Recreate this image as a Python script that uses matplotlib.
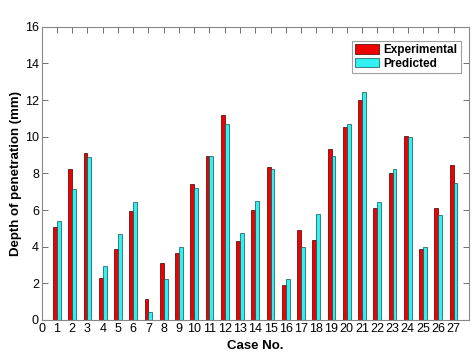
import matplotlib
matplotlib.use('Agg')
import matplotlib.pyplot as plt
from matplotlib import font_manager
import numpy as np

# case data
cases = np.arange(1, 28)
experimental = [5.09, 8.24, 9.13, 2.29, 3.85, 5.96, 1.13, 3.11, 3.65, 7.42,
                8.93, 11.20, 4.31, 5.98, 8.36, 1.89, 4.93, 4.35, 9.35, 10.51,
                11.98, 6.09, 8.00, 10.02, 3.85, 6.11, 8.45]
predicted = [5.38, 7.15, 8.91, 2.93, 4.67, 6.44, 0.45, 2.22, 3.96, 7.18,
             8.93, 10.69, 4.73, 6.47, 8.22, 2.25, 4.00, 5.76, 8.93, 10.67,
             12.45, 6.45, 8.22, 9.98, 3.98, 5.75, 7.49]
x_ticks = np.arange(0, 28)
y_ticks = np.arange(0, 17, 2)

# narrow font if we have it, the original looks squeezed sideways
names = set(f.name for f in font_manager.fontManager.ttflist)
if 'Liberation Sans Narrow' in names:
    fam = ['Liberation Sans Narrow', 'DejaVu Sans']
else:
    fam = ['Liberation Sans', 'DejaVu Sans']
plt.rcParams['font.family'] = fam

fig = plt.figure(figsize=(4.74, 3.55), dpi=100)
ax = fig.add_axes([0.088, 0.0986, 0.901, 0.826])

w = 0.26
ax.bar(cases - w / 2, experimental, width=w, color='#f00000',
       edgecolor='#400000', linewidth=0.5, label='Experimental', zorder=2)
ax.bar(cases + w / 2, predicted, width=w, color='#30f0f0',
       edgecolor='#105050', linewidth=0.5, label='Predicted', zorder=2)

ax.set_xlim(0, 28)
ax.set_ylim(0, 16)
ax.set_xticks(x_ticks)
ax.set_yticks(y_ticks)
ax.tick_params(direction='in', top=True, right=True, length=4, width=0.6,
               color='#555555', labelsize=9, pad=2)
for s in ax.spines.values():
    s.set_color('#888888')
    s.set_linewidth(0.8)

ax.set_xlabel('Case No.', fontsize=9.5, fontweight='bold', labelpad=4)
ax.set_ylabel('Depth of penetration (mm)', fontsize=9.5, fontweight='bold', labelpad=2)

leg = ax.legend(loc='upper right', bbox_to_anchor=(0.982, 0.953),
                prop={'weight': 'bold', 'size': 8.5}, fancybox=False,
                edgecolor='#888888', handlelength=2.0, handleheight=0.85,
                borderpad=0.3, labelspacing=0.15, handletextpad=0.4,
                borderaxespad=0)
leg.get_frame().set_linewidth(0.8)

fig.savefig('out.png', dpi=100)
